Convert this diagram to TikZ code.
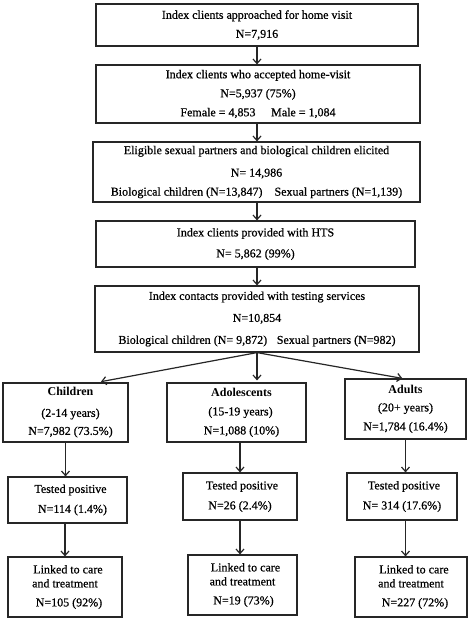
\documentclass[tikz,border=0pt]{standalone}
\usepackage{fontspec}
\setmainfont[UprightFeatures={FakeBold=0.6}]{Liberation Serif}
\usetikzlibrary{arrows.meta,calc}
\begin{document}
\begin{tikzpicture}[x=1pt,y=-1pt,
  box/.style={draw=black!85, line width=1.2pt, inner sep=0pt, align=center,
    font=\fontsize{12}{14.5}\selectfont, text=black},
  conn/.style={draw=black!85, line width=1.2pt, -{Straight Barb[length=4.5pt,width=8pt,line width=1.2pt]}}]
\useasboundingbox[fill=white] (0,0) rectangle (474,619);
% main column
\node[box, minimum width=322pt, minimum height=42pt] (b1) at (257,25)
  {Index clients approached for home visit\\[4.5pt]N=7,916};
\node[box, minimum width=324pt, minimum height=58pt] (b2) at (258,94)
  {Index clients who accepted home-visit\\[4.5pt]N=5,937 (75\%)\\[4.5pt]Female = 4,853\hspace{1.3em}Male = 1,084};
\node[box, minimum width=327pt, minimum height=60pt] (b3) at (256.5,172)
  {Eligible sexual partners and biological children elicited\\[8pt]N= 14,986\\[4.5pt]Biological children (N=13,847)\hspace{1em}Sexual partners (N=1,139)};
\node[box, minimum width=319pt, minimum height=46pt] (b4) at (255.5,244)
  {Index clients provided with HTS\\[6.5pt]N= 5,862 (99\%)};
\node[box, minimum width=324pt, minimum height=66pt] (b5) at (257,319)
  {Index contacts provided with testing services\\[7.5pt]N=10,854\\[7.5pt]Biological children (N= 9,872)\hspace{0.8em}Sexual partners (N=982)};
% age groups
\node[box, minimum width=125pt, minimum height=59pt] (ch) at (65.5,412.5)
  {\hspace*{10pt}\textbf{Children}\\[6.5pt]\hspace*{10pt}(2-14 years)\\[3.5pt]\hspace*{10pt}N=7,982 (73.5\%)};
\node[box, minimum width=139pt, minimum height=59pt] (ad) at (236.5,412.5)
  {\hspace*{10pt}\textbf{Adolescents}\\[4.5pt]\hspace*{8pt}(15-19 years)\\[4.5pt]\hspace*{10pt}N=1,088 (10\%)};
\node[box, minimum width=121pt, minimum height=60pt] (au) at (405.5,409)
  {\textbf{Adults}\\[3.5pt](20+ years)\\[4.5pt]N=1,784 (16.4\%)};
% tested positive
\node[box, minimum width=119pt, minimum height=46pt] (t1) at (67.5,500)
  {\hspace*{6pt}Tested positive\\[5.5pt]\hspace*{10pt}N=114 (1.4\%)};
\node[box, minimum width=114pt, minimum height=47pt] (t2) at (240,496.5)
  {\hspace*{4pt}Tested positive\\[5.5pt]N=26 (2.4\%)};
\node[box, minimum width=110pt, minimum height=47pt] (t3) at (402,496.5)
  {\hspace*{4pt}Tested positive\\[5.5pt]N= 314 (17.6\%)};
% linked
\node[box, minimum width=114pt, minimum height=60pt] (l1) at (65,587)
  {\hspace*{6pt}Linked to care\\[-0.5pt]and treatment\\[4.5pt]\hspace*{8pt}N=105 (92\%)};
\node[box, minimum width=109pt, minimum height=60pt] (l2) at (242.5,585)
  {\hspace*{6pt}Linked to care\\[-0.5pt]and treatment\\[4.5pt]\hspace*{2pt}N=19 (73\%)};
\node[box, minimum width=112pt, minimum height=60pt] (l3) at (411,587)
  {\hspace*{6pt}Linked to care\\[-0.5pt]and treatment\\[4.5pt]\hspace*{8pt}N=227 (72\%)};
% connectors, main column
\draw[conn] (b1.south) -- (b1.south |- b2.north);
\draw[conn] (b1.south |- b2.south) -- (b1.south |- b3.north);
\draw[conn] (b1.south |- b3.south) -- (b1.south |- b4.north);
\draw[conn] (b1.south |- b4.south) -- (b1.south |- b5.north);
% split
\draw[conn, shorten >=4pt] (b5.south) -- ($(ch.north west)!0.75!(ch.north east)$);
\draw[conn, shorten >=2pt] (b5.south) -- (b5.south |- ad.north);
\draw[conn] (b5.south) -- ($(au.north west)!0.475!(au.north east)$);
% columns
\draw[conn] (ch.south) -- (ch.south |- t1.north);
\draw[conn] (t1.south -| l1.north) -- (l1.north);
\draw[conn] (t2.north |- ad.south) -- (t2.north);
\draw[conn] (t2.south) -- (t2.south |- l2.north);
\draw[conn] (au.south) -- (au.south |- t3.north);
\draw[conn] (au.south |- t3.south) -- (au.south |- l3.north);
\end{tikzpicture}
\end{document}
